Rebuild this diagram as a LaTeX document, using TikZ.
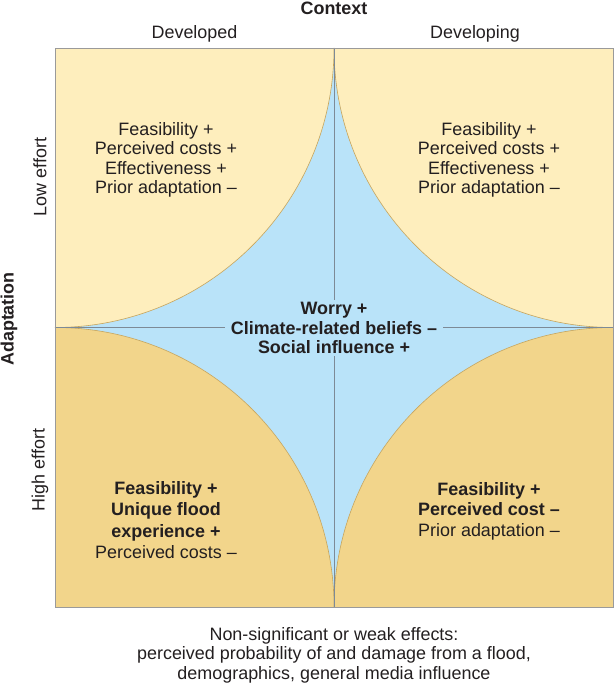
\documentclass[tikz,border=0pt]{standalone}
\usepackage{fontspec}
\setmainfont{Liberation Sans}
\usetikzlibrary{positioning}

\definecolor{lowfill}{HTML}{FEEEBD}
\definecolor{highfill}{HTML}{F2D58B}
\definecolor{corefill}{HTML}{B9E3F9}
\definecolor{arcline}{HTML}{C9A55A}
\definecolor{axisline}{HTML}{7D8A96}
\definecolor{frameline}{HTML}{9A9A9A}
\definecolor{ink}{HTML}{231F20}

\begin{document}
\begin{tikzpicture}[
      x=1bp, y=1bp,
      every node/.style={text=ink, font=\fontsize{18}{19.5}\selectfont},
      head/.style={font=\fontsize{18}{19.5}\selectfont\bfseries},
      quad/.style={align=center, inner sep=0pt},
      core/.style={align=center, fill=corefill, inner xsep=6bp, inner ysep=2bp,
          font=\fontsize{18}{19.5}\selectfont\bfseries},
      axis/.style={draw=axisline, line width=0.8bp},
      rim/.style={draw=arcline, line width=0.6bp},
    ]
    \useasboundingbox (0,0) rectangle (614,685);

    % corners and mid points of the square
    \coordinate (sw) at (55,78);
    \coordinate (ne) at (613,637);
    \coordinate (n) at (334,637);
    \coordinate (s) at (334,78);
    \coordinate (w) at (55,357.5);
    \coordinate (e) at (613,357.5);

    % effort halves
    \fill[lowfill] (w) rectangle (ne);
    \fill[highfill] (sw) rectangle (e);

    % shared core between the four quarter circles
    \path[fill=corefill, rim] (n)
      arc[start angle=0, end angle=-90, x radius=279, y radius=279.5]
      arc[start angle=90, end angle=0, x radius=279, y radius=279.5]
      arc[start angle=180, end angle=90, x radius=279, y radius=279.5]
      arc[start angle=270, end angle=180, x radius=279, y radius=279.5] -- cycle;

    \draw[axis] (n) -- (s);
    \draw[axis] (w) -- (e);
    \draw[draw=frameline, line width=0.8bp] (sw) rectangle (ne);

    % axis titles
    \node[head] (context) at (334,677) {Context};
    \node (developed) at (194.5,651) {Developed};
    \node (developing) at (475,651) {Developing};
    \node[head, rotate=90] (adaptation) at (9,366) {Adaptation};
    \node[rotate=90] (low) at (40,508) {Low effort};
    \node[rotate=90] (high) at (40,215) {High effort};

    % quadrants
    \node[quad] (ul) at (166,525) {Feasibility +\\ Perceived costs +\\
      Effectiveness +\\ Prior adaptation –};
    \node[quad] (ur) at (489,525) {Feasibility +\\ Perceived costs +\\
      Effectiveness +\\ Prior adaptation –};
    \node[quad] (ll) at (166,165) {\textbf{Feasibility +}\\[2bp] \textbf{Unique flood}\\[2bp]
      \textbf{experience +}\\[2bp] Perceived costs –};
    \node[quad] (lr) at (489,174) {\textbf{Feasibility +}\\[1bp] \textbf{Perceived cost –}\\[1bp]
      Prior adaptation –};

    \node[core] (centre) at (334,357) {Worry +\\ Climate-related beliefs –\\ Social influence +};

    \node[quad] (weak) at (334,30) {Non-significant or weak effects:\\
      perceived probability of and damage from a flood,\\
      demographics, general media influence};
  \end{tikzpicture}
\end{document}
